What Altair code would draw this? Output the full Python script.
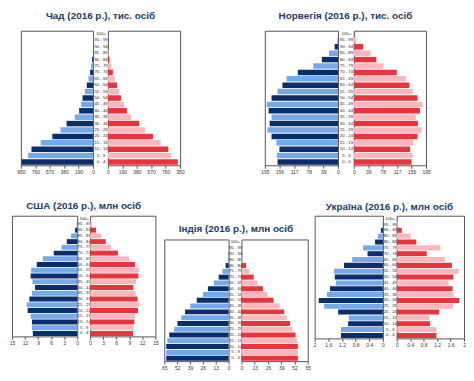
import altair as alt
import pandas as pd

AGES = ["0 - 4", "5 - 9", "10 - 14", "15 - 19", "20 - 24", "25 - 29", "30 - 34",
        "35 - 39", "40 - 44", "45 - 49", "50 - 54", "55 - 59", "60 - 64", "65 - 69",
        "70 - 74", "75 - 79", "80 - 84", "85 - 89", "90 - 94", "95 - 99", "100+"]

# Chad, thousands
chad_m = [941, 854, 810, 689, 536, 427, 349, 240, 183, 157, 139, 109, 83, 61, 39, 26, 13, 4, 1, 0, 0]
chad_f = [920, 833, 795, 695, 592, 492, 410, 307, 250, 212, 173, 147, 121, 91, 65, 43, 22, 9, 2, 0, 0]
chad_ticks = [0, 190, 380, 570, 760, 950]

# Norway, thousands
nor_m = [161, 163, 156, 164, 177, 188, 182, 177, 185, 190, 177, 161, 148, 137, 107, 66, 43, 24, 9, 2, 0]
nor_f = [156, 159, 152, 160, 172, 183, 173, 167, 179, 186, 172, 159, 150, 141, 116, 80, 61, 45, 25, 7, 1]
nor_ticks = [0, 39, 78, 117, 156, 195]

# USA, millions
usa_m = [10.2, 10.4, 10.4, 10.7, 11.4, 11.6, 11.0, 10.4, 9.7, 10.3, 10.7, 10.6, 9.3, 7.9, 5.4, 3.6, 2.4, 1.4, 0.5, 0.15, 0.02]
usa_f = [9.85, 10.0, 10.15, 10.3, 11.0, 11.3, 10.9, 10.45, 9.9, 10.6, 11.1, 11.3, 10.3, 9.0, 6.4, 4.8, 3.6, 2.5, 1.36, 0.45, 0.1]
usa_ticks = [0, 3, 6, 9, 12, 15]

# India, millions
ind_m = [63, 63, 63, 62, 60, 55, 51.7, 47.8, 44, 38.8, 32.2, 25.9, 20.9, 14.9, 10, 6.3, 3, 1, 0.3, 0.1, 0]
ind_f = [55.3, 55.3, 55.3, 54.6, 53, 50, 47.8, 44.5, 42, 37.4, 31.5, 25.7, 21.1, 15.9, 12, 7.8, 4.5, 1, 0.3, 0.1, 0]
ind_ticks = [0, 13, 26, 39, 52, 65]

# Ukraine, millions
ukr_m = [1.23, 1.23, 1.02, 1.0, 1.31, 1.72, 1.88, 1.64, 1.55, 1.38, 1.41, 1.43, 1.14, 0.9, 0.45, 0.58, 0.23, 0.15, 0.06, 0.01, 0]
ukr_f = [1.18, 1.18, 0.99, 0.97, 1.26, 1.67, 1.86, 1.69, 1.66, 1.54, 1.68, 1.84, 1.64, 1.43, 0.89, 1.30, 0.58, 0.41, 0.15, 0.03, 0.005]
ukr_ticks = [0, 0.4, 0.8, 1.2, 1.6, 2]

TITLE_COLOR = "#1c3a6c"
FONT = "Liberation Sans"
SHADES = ["Ldark", "Llight", "Rdark", "Rlight"]
SHADE_COLORS = ["#0b2d6c", "#74aaea", "#e8343b", "#f7b7bd"]


def half(values, left, dmax, ticks, w, h, fmt, gap):
    side = "L" if left else "R"
    df = pd.DataFrame({
        "age": AGES,
        "v": values,
        "shade": [side + ("dark" if i % 2 == 0 else "light") for i in range(len(AGES))],
    })
    x = alt.X("v:Q",
              scale=alt.Scale(domain=[0, dmax], reverse=left, nice=False, zero=True),
              axis=alt.Axis(values=ticks, title=None, grid=False, domain=False,
                            labelFontSize=5, labelFont=FONT, labelColor="#333",
                            tickSize=3, tickColor="#555", labelPadding=1,
                            format=fmt, labelFlush=False, labelOverlap=False))
    if left:
        yaxis = None
    else:
        yaxis = alt.Axis(title=None, orient="left", labelAlign="center",
                         labelPadding=gap / 2, ticks=False, domain=False,
                         labelFontSize=4.3, labelFont=FONT, labelColor="#222",
                         minExtent=0, labelBaseline="middle")
    y = alt.Y("age:N", sort=AGES[::-1],
              scale=alt.Scale(paddingInner=0.14, paddingOuter=0.08),
              axis=yaxis)
    return alt.Chart(df).mark_bar().encode(
        x=x, y=y,
        color=alt.Color("shade:N", scale=alt.Scale(domain=SHADES, range=SHADE_COLORS), legend=None),
    ).properties(width=w, height=h)


def pyramid(title, m, f, dmax, ticks, wl, wr, gap, h, fmt, toff):
    return alt.hconcat(
        half(m, True, dmax, ticks, wl, h, fmt, gap),
        half(f, False, dmax, ticks, wr, h, fmt, gap),
        spacing=gap, bounds="flush",
        title=alt.TitleParams(title, fontSize=10, font=FONT, fontWeight="bold",
                              color=TITLE_COLOR, anchor="middle", offset=toff),
    )


def spacer(w, h):
    return alt.Chart(pd.DataFrame({"a": [0]})).mark_text().encode(
        text=alt.value("")
    ).properties(width=w, height=h, view=alt.ViewBackground(strokeOpacity=0))


chad = pyramid("Чад (2016 р.), тис. осіб", chad_m, chad_f, 950, chad_ticks, 73, 73, 15, 136, "d", 9)
norway = pyramid("Норвегія (2016 р.), тис. осіб", nor_m, nor_f, 195, nor_ticks, 74, 73, 16, 136, "d", 9)
usa = pyramid("США (2016 р.), млн осіб", usa_m, usa_f, 15, usa_ticks, 66, 66, 13, 122, "d", 4)
india = pyramid("Індія (2016 р.), млн осіб", ind_m, ind_f, 65, ind_ticks, 65, 67, 13, 123, "d", 5)
ukraine = pyramid("Україна (2016 р.), млн осіб", ukr_m, ukr_f, 2, ukr_ticks, 69, 68, 14, 124, ".2~f", 3)

row1 = alt.hconcat(
    alt.hconcat(spacer(3.6, 1), chad, spacing=0),
    norway, spacing=75.6)
row2 = alt.hconcat(
    usa,
    alt.vconcat(spacer(1, 5), india, spacing=0),
    ukraine,
    spacing=1)

chart = alt.vconcat(row1, row2, spacing=26).properties(
    padding={"left": 0, "top": 1, "right": 0, "bottom": 0},
    background="white",
).configure_view(stroke="#555", strokeWidth=1)

chart.save("out.html", embed_options={"renderer": "svg", "actions": False})
